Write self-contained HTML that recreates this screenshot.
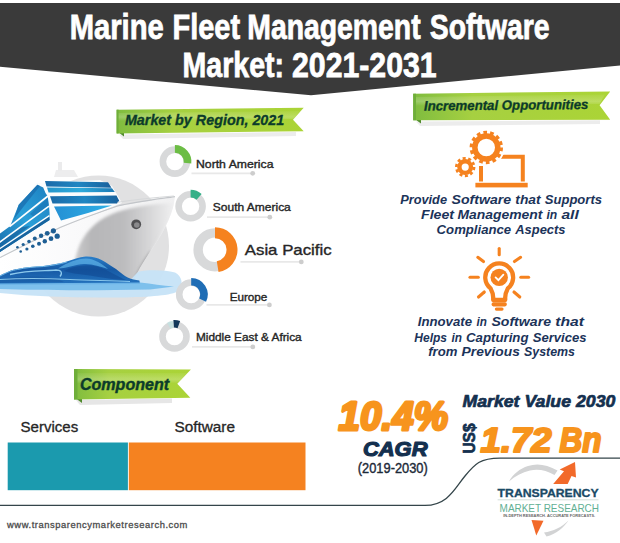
<!DOCTYPE html>
<html><head><meta charset="utf-8"><title>Marine Fleet Management Software Market</title>
<style>
html,body{margin:0;padding:0;background:#fff;}
body{width:620px;height:543px;overflow:hidden;position:relative;font-family:"Liberation Sans",sans-serif;}
svg{position:absolute;left:0;top:0;display:block;}
text{font-family:"Liberation Sans",sans-serif;}
.bi{font-weight:bold;font-style:italic;}
.b{font-weight:bold;}
</style></head><body>
<svg width="620" height="543" viewBox="0 0 620 543">
<defs>
<linearGradient id="rib" x1="0" y1="0" x2="1" y2="0"><stop offset="0" stop-color="#7fbc3f"/><stop offset="0.3" stop-color="#a6d041"/><stop offset="1" stop-color="#abd436"/></linearGradient>
<linearGradient id="shine" x1="0" y1="0" x2="0" y2="1"><stop offset="0" stop-color="#fff" stop-opacity="0.05"/><stop offset="0.6" stop-color="#fff" stop-opacity="0.22"/><stop offset="1" stop-color="#fff" stop-opacity="0.0"/></linearGradient>
<linearGradient id="hull" x1="0" y1="0" x2="1" y2="0"><stop offset="0" stop-color="#ffffff"/><stop offset="0.5" stop-color="#f9f9fa"/><stop offset="0.8" stop-color="#f3f3f4"/><stop offset="1" stop-color="#f0f0f1"/></linearGradient>
<linearGradient id="wave" x1="0" y1="0" x2="0" y2="1"><stop offset="0" stop-color="#2b80ca"/><stop offset="0.45" stop-color="#1659a4"/><stop offset="1" stop-color="#2474bf"/></linearGradient>
<linearGradient id="glass1" x1="0" y1="0" x2="1" y2="0"><stop offset="0" stop-color="#1a6aa8"/><stop offset="0.5" stop-color="#1f86c2"/><stop offset="1" stop-color="#18609c"/></linearGradient>
<linearGradient id="glass2" x1="0" y1="0" x2="1" y2="0"><stop offset="0" stop-color="#2596cc"/><stop offset="0.5" stop-color="#2eaada"/><stop offset="1" stop-color="#1c78b4"/></linearGradient>
<linearGradient id="glass3" x1="0" y1="0" x2="1" y2="0"><stop offset="0" stop-color="#2490d4"/><stop offset="1" stop-color="#2fb0e6"/></linearGradient>
<linearGradient id="glass4" x1="0" y1="1" x2="1" y2="0"><stop offset="0" stop-color="#1a70ae"/><stop offset="0.5" stop-color="#2a9fd8"/><stop offset="1" stop-color="#1d7fc0"/></linearGradient>
<linearGradient id="hullshade" x1="0" y1="0" x2="1" y2="0"><stop offset="0" stop-color="#cfcfd0"/><stop offset="0.2" stop-color="#b6b6b8"/><stop offset="0.5" stop-color="#bcbcbe"/><stop offset="0.78" stop-color="#dadadb"/><stop offset="1" stop-color="#f2f2f3"/></linearGradient>
<filter id="blur2" x="-10%" y="-10%" width="120%" height="120%"><feGaussianBlur stdDeviation="1.6"/></filter>
<filter id="blur1" x="-20%" y="-20%" width="140%" height="140%"><feGaussianBlur stdDeviation="0.8"/></filter>
</defs>

<!-- HEADER -->
<g id="header">
<polygon points="0,3 620,3 620,65.4 311,95.2 0,66.7" fill="#3a3a3a"/>
<text x="69.7" y="38.9" font-size="35.7" class="b" fill="#fff" stroke="#fff" stroke-width="0.8" textLength="94.1" lengthAdjust="spacingAndGlyphs">Marine</text>
<text x="172.6" y="38.9" font-size="35.7" class="b" fill="#fff" stroke="#fff" stroke-width="0.8" textLength="67.4" lengthAdjust="spacingAndGlyphs">Fleet</text>
<text x="247.3" y="38.9" font-size="35.7" class="b" fill="#fff" stroke="#fff" stroke-width="0.8" textLength="173.3" lengthAdjust="spacingAndGlyphs">Management</text>
<text x="429.7" y="38.9" font-size="35.7" class="b" fill="#fff" stroke="#fff" stroke-width="0.8" textLength="119.9" lengthAdjust="spacingAndGlyphs">Software</text>
<text x="182.6" y="76.9" font-size="35.7" class="b" fill="#fff" stroke="#fff" stroke-width="0.8" textLength="101.5" lengthAdjust="spacingAndGlyphs">Market:</text>
<text x="292" y="76.9" font-size="35.7" class="b" fill="#fff" stroke="#fff" stroke-width="0.8" textLength="144.6" lengthAdjust="spacingAndGlyphs">2021-2031</text>
</g>

<!-- RIBBONS -->
<g id="ribbons">
<polygon points="119,134.5 296,132 296,136 123,139" fill="#ececec"/>
<polygon points="116.6,131 124,131 124,136.5" fill="#4f8a2c"/>
<polygon points="116.6,109.7 303.7,107.8 293,119.7 303.7,131.3 116.6,133.4" fill="url(#rib)"/>
<polygon points="116.6,113 300,111 293.5,119 116.6,121" fill="url(#shine)"/>
<polygon points="116.6,109.7 118.6,109.7 118.6,133.4 116.6,133.4" fill="#6fae3a"/>
<text x="124.9" y="124.8" font-size="14.6" class="bi" fill="#0c3b2b" stroke="#0c3b2b" stroke-width="0.3" textLength="159.4" lengthAdjust="spacingAndGlyphs">Market by Region, 2021</text>

<polygon points="416,121.5 600,120.3 600,124 420,126" fill="#ececec"/>
<polygon points="413.2,118 421,118 421,123.5" fill="#4f8a2c"/>
<polygon points="413.2,93.7 610.2,91.4 599.6,105.3 610.2,119.7 413.2,120.3" fill="url(#rib)"/>
<polygon points="413.2,97 605,94.5 599.5,104 413.2,106" fill="url(#shine)"/>
<polygon points="413.2,93.7 416,93.7 416,120.3 413.2,120.3" fill="#6fae3a"/>
<text transform="translate(424,110.6) rotate(-0.56)" font-size="13.6" class="bi" fill="#0c3b2b" stroke="#0c3b2b" stroke-width="0.3" textLength="164.4" lengthAdjust="spacingAndGlyphs">Incremental Opportunities</text>

<polygon points="76,400 172,398.5 172,403 80,405" fill="#e6e6e6"/>
<polygon points="74,397 82,397 82,403" fill="#4f8a2c"/>
<polygon points="74,369 190.9,369.6 177.3,383.7 190.3,397.8 74,399.5" fill="url(#rib)"/>
<polygon points="74,373 187,373 178,383 74,383.5" fill="url(#shine)"/>
<polygon points="74,369 77.5,369 77.5,399.5 74,399.5" fill="#6fae3a"/>
<text x="79.9" y="389.9" font-size="17.2" class="bi" fill="#0c3b2b" stroke="#0c3b2b" stroke-width="0.4" textLength="89.3" lengthAdjust="spacingAndGlyphs">Component</text>
</g>

<!-- SHIP -->
<g id="ship">
<circle cx="98.5" cy="246" r="70.5" fill="#e1e1e2"/>
<!-- mast -->
<polygon points="54,177 56,170 74,170 78,177" fill="#ededee"/>
<rect x="58" y="162" width="4" height="9" fill="#ebebec"/>
<!-- superstructure white backing -->
<polygon points="0,236 12,221 36,183 100,180 112,186 122,203 60,228 0,259" fill="#fbfcfd"/>
<!-- horizontal stripes -->
<polygon points="45,181 108,182.2 111.5,187.8 46.5,186.6" fill="url(#glass1)"/>
<polygon points="47,187.6 112,188.2 114.8,192 48.5,192.4" fill="url(#glass2)"/>
<polygon points="50,196.3 116.5,195.6 119.2,200.7 117,203.6 52.5,203.6" fill="url(#glass1)"/>
<polygon points="54,206.6 112,205.6 88,213 61,220.5" fill="url(#glass3)"/>
<!-- tilted panels -->
<polygon points="12.2,220.9 18.7,204.8 37.4,184.8 43.2,187.4 45.5,193 47.7,196.3 49,206 49.6,213 49.6,220 0,251.9 0,233.5 10.3,226" fill="url(#glass4)"/>
<polygon points="18.7,204.8 37.4,184.8 40,186 24,206 14,219" fill="#1a6fb0" opacity="0.8"/>
<polygon points="0,242 20,227.5 30,226 0,248" fill="#17649f" opacity="0.7"/>
<polygon points="30,214 47.7,198 48.6,205.5 34,217" fill="#1b78b8" opacity="0.7"/>
<polygon points="0,248.8 49,216 49.6,220 0,251.9" fill="#17649f"/>
<g stroke="#fff" fill="none">
<line x1="9.5" y1="226.7" x2="48" y2="196" stroke-width="1.7"/>
<line x1="-1" y1="242.7" x2="49" y2="206.1" stroke-width="1.5"/>
<line x1="-1" y1="249.2" x2="49.4" y2="215.6" stroke-width="1.3"/>
</g>
<polygon points="0,258.6 15.8,252.2 16.6,254.6 0,261.4" fill="#1a6dab"/>
<!-- hull -->
<path d="M174.9,197 C173.5,211 167,227 153,247.5 C145,259 138,270 133,282 L0,290 L0,258 C20,248 40,238 60,228 C80,219.5 100,212.5 117.5,206.5 C135,202.5 155,200 174.9,197 Z" fill="url(#hull)"/>
<clipPath id="hullclip"><path d="M174.9,197 C173.5,211 167,227 153,247.5 C145,259 138,270 133,282 L0,290 L0,258 C20,248 40,238 60,228 C80,219.5 100,212.5 117.5,206.5 C135,202.5 155,200 174.9,197 Z"/></clipPath>
<g clip-path="url(#hullclip)"><path d="M132,284 C138,270 145,259 154,247.5 C164,232 171,216 176,203 C156,203.5 135,206 117,212 C100,218 88,228 80,244 C76,254 73,266 71,286 Z" fill="url(#hullshade)" filter="url(#blur2)"/></g>
<path d="M0,257.5 C20,247.5 40,237.5 60,227.6 C80,219 100,212 117.5,206 C135,202 155,199.5 174.9,196.6" fill="none" stroke="#c2c5c9" stroke-width="1.1"/>
<path d="M117.5,202.3 C135,199.5 155,197.6 173.8,196" fill="none" stroke="#d6d8da" stroke-width="1"/>
<g clip-path="url(#hullclip)"><path d="M131,284 C136,271 143,260 151,249 C147,262 142,273 139,284 Z" fill="#a9a9ab" filter="url(#blur1)"/><path d="M134.5,282 C139,270 146,259 154.5,247.5" fill="none" stroke="#f4f4f4" stroke-width="1.2"/></g>
<circle cx="136.2" cy="224.3" r="4.9" fill="#505052"/><circle cx="136.8" cy="225" r="2.8" fill="#8a8a8c"/>
<!-- portholes -->
<g fill="#1f5f94">
<circle cx="17.4" cy="247.3" r="1.3"/><circle cx="23.2" cy="244.5" r="1.6"/><circle cx="29" cy="241.5" r="1.8"/><circle cx="34.8" cy="238.6" r="2"/><circle cx="41.1" cy="235.7" r="2.2"/><circle cx="47.2" cy="233.3" r="2.4"/><circle cx="53.4" cy="230.8" r="2.6"/>
<circle cx="20.7" cy="251.5" r="1.3"/><circle cx="26.9" cy="249" r="1.6"/><circle cx="32.8" cy="246.2" r="1.8"/><circle cx="39" cy="243.7" r="2"/><circle cx="44.8" cy="241.2" r="2.2"/><circle cx="51" cy="238.7" r="2.4"/><circle cx="57.2" cy="236.2" r="2.6"/>
</g>
<!-- water -->
<path d="M0,281 C40,279.5 100,279 131,279.5 C134,276 136,273.5 139,271.5 C150,269.5 165,270 175,272.5 C182,276 184,285 178.5,291 C172,295.5 150,297 120,297.5 C80,298 40,297 0,293 Z" fill="#c6e3f7" opacity="0.95"/>
<path d="M0,275.5 C8,271.5 12,269.8 17.4,269 C26,267 34,266.6 43.5,266 C52,265 60,263.6 66.8,261.6 C73,259.6 79,256.8 85.6,256.4 C92,256.2 97,257.5 101.6,260 C107,263 112,266.5 116,269 C121,273 124,275.5 127.7,277.6 C132,279.6 135,280.2 139.4,280.5 L140,284 L0,285 Z" fill="url(#wave)"/>
<path d="M58,268.5 C68,262.5 77,258.8 86,258.6 C95,259 102,264 108,269 C100,266.5 92,263.5 84,264 C76,264.5 68,268 58,268.5 Z" fill="#5fb3e8" opacity="0.7"/>
<path d="M64,271 C74,265.5 88,263.5 99,267 C107,270 115,275 126,280 C110,279.5 96,276 86,275 C78,274 70,273 64,271 Z" fill="#114a92" opacity="0.6"/>
<path d="M0,280 C14,276.5 30,276 44,277 C54,278 60,280 64,282 L0,283 Z" fill="#114a92" opacity="0.35"/>
<path d="M0,283.5 L140,282.5 C152,284 162,285.5 174,286.5 L150,289.5 C100,290.5 40,290.5 0,289 Z" fill="#74bbeb" opacity="0.9"/>
<path d="M0,279.5 C30,277.5 50,278.5 70,279.5 C90,280.5 110,280.5 130,281.5" fill="none" stroke="#9ad6f5" stroke-width="1.2" opacity="0.85"/>
<path d="M10,274.5 C28,270 44,271 56,270 C61,270 63,272.5 60,276.5" fill="none" stroke="#9ad6f5" stroke-width="1.3" opacity="0.9"/>
<path d="M0,276 C8,272 12,270.3 17.4,269.5 C26,267.5 34,267 43.5,266.5 C52,265.5 60,264 66.8,262" fill="none" stroke="#7cc4ef" stroke-width="1" opacity="0.9"/>
</g>

<!-- DONUTS -->
<g id="donuts" fill="none">
<circle cx="174.9" cy="161.6" r="12" stroke="#d8d9da" stroke-width="6.6"/>
<path d="M174.90,148.90 A12.7,12.7 0 0 1 187.51,163.15" stroke="#6cbd45" stroke-width="7.6"/>
<circle cx="190.6" cy="206.3" r="12" stroke="#d8d9da" stroke-width="6.6"/>
<path d="M190.60,193.60 A12.7,12.7 0 0 1 199.10,196.86" stroke="#35b088" stroke-width="7.6"/>
<circle cx="191.2" cy="294.5" r="12" stroke="#d8d9da" stroke-width="6.6"/>
<path d="M191.20,281.80 A12.7,12.7 0 0 1 202.61,300.07" stroke="#1f6db5" stroke-width="7.6"/>
<circle cx="174.5" cy="336.5" r="12" stroke="#d8d9da" stroke-width="6.6"/>
<path d="M173.61,323.83 A12.7,12.7 0 0 1 178.84,324.57" stroke="#12375a" stroke-width="7.6"/>
<path d="M168.77,325.73 A12.2,12.2 0 0 1 173.44,324.35" stroke="#bfe3e3" stroke-width="7" opacity="0.7"/>
<circle cx="215" cy="249.8" r="16.9" stroke="#d8d9da" stroke-width="9.4"/>
<path d="M215.00,232.80 A17,17 0 0 1 217.66,266.59" stroke="#f5821f" stroke-width="11"/>
</g>
<g id="labels" fill="#262626" stroke="#262626" stroke-width="0.35" font-size="10.4">
<text x="196" y="167.8" textLength="77.5" lengthAdjust="spacingAndGlyphs">North America</text>
<text x="212.8" y="210.7" textLength="78" lengthAdjust="spacingAndGlyphs">South America</text>
<text x="244.8" y="255.1" font-size="14.3" textLength="86.8" lengthAdjust="spacingAndGlyphs">Asia Pacific</text>
<text x="229.7" y="300.8" textLength="37.7" lengthAdjust="spacingAndGlyphs">Europe</text>
<text x="196" y="340.6" textLength="105.7" lengthAdjust="spacingAndGlyphs">Middle East &amp; Africa</text>
</g>
<g id="leaders" stroke="#e8e8e8" stroke-width="1.8" fill="#cdcdcd">
<line x1="191.5" y1="173.4" x2="251" y2="173.4"/><circle cx="252.7" cy="173.3" r="2.4" stroke="none"/>
<line x1="207" y1="217.2" x2="268" y2="217.2"/><circle cx="269.8" cy="217.2" r="2.4" stroke="none"/>
<line x1="240.5" y1="261.8" x2="299.5" y2="261.8"/><circle cx="301.3" cy="261.9" r="2.4" stroke="none"/>
<line x1="206.5" y1="304.9" x2="267.5" y2="304.9"/><circle cx="269.4" cy="304.9" r="2.4" stroke="none"/>
<line x1="192" y1="346.9" x2="251" y2="346.9"/><circle cx="252.8" cy="346.9" r="2.4" stroke="none"/>
</g>

<!-- ICONS -->
<g id="icon1" fill="none" stroke="#f5821f">
<path d="M497,156.8 L522.8,156.8 L522.8,181.6 M481,181.6 L481,166" stroke-width="4"/>
<rect x="475.4" y="182.8" width="52.3" height="4.6" fill="#f5821f" stroke="none"/>
<circle cx="486.3" cy="147.5" r="18.6" fill="#fff" stroke="none"/>
<circle cx="486.3" cy="147.5" r="11.45" stroke-width="5.5"/>
<circle cx="486.3" cy="147.5" r="15.1" stroke-width="3.2" stroke-dasharray="3.7 3.077"/>
<circle cx="465.2" cy="167.1" r="11.6" fill="#fff" stroke="none"/>
<circle cx="465.2" cy="167.1" r="5.8" stroke-width="4.4"/>
<circle cx="465.2" cy="167.1" r="8.85" stroke-width="2.7" stroke-dasharray="3 2.56"/>
</g>
<g id="icon2" fill="none" stroke="#f5821f" stroke-linecap="round">
<path d="M493.2,300 L493.2,297.5 C493.2,293.5 492,291 490.6,288.4 A13.95,13.95 0 1 1 507.8,288.4 C506.4,291 505.2,293.5 505.2,297.5 L505.2,300 Z" stroke-width="4.3" stroke-linejoin="round"/>
<circle cx="499.2" cy="277.4" r="8.7" fill="#f5821f" stroke="none"/>
<path d="M495.6,277.4 L498.4,280.2 L503.4,274.6" stroke="#fff" stroke-width="1.8"/>
<rect x="491.6" y="302.2" width="15.2" height="4.2" rx="1.8" fill="#f5821f" stroke="none"/>
<rect x="494.8" y="307.4" width="8.8" height="3.3" rx="1.6" fill="#f5821f" stroke="none"/>
<g stroke-width="3.1">
<line x1="499.2" y1="248.6" x2="499.2" y2="254.8"/>
<line x1="470" y1="277.2" x2="478.3" y2="277.2"/>
<line x1="520.8" y1="277.2" x2="528.6" y2="277.2"/>
<line x1="477.8" y1="257.3" x2="483.5" y2="261.5"/>
<line x1="520.6" y1="257.3" x2="514.4" y2="261.5"/>
<line x1="478.5" y1="297" x2="484.3" y2="292"/>
<line x1="519.8" y1="297" x2="514" y2="292"/>
</g>
</g>

<!-- RIGHT TEXT -->
<g id="rtext" class="bi" fill="#1b3359" font-size="13.6">
<text x="400.2" y="204.4" textLength="46.8" lengthAdjust="spacingAndGlyphs">Provide</text><text x="451.5" y="204.4" textLength="59.7" lengthAdjust="spacingAndGlyphs">Software</text><text x="515.3" y="204.4" textLength="25.3" lengthAdjust="spacingAndGlyphs">that</text><text x="544.8" y="204.4" textLength="57.2" lengthAdjust="spacingAndGlyphs">Supports</text>
<text x="421" y="219.1" textLength="33.0" lengthAdjust="spacingAndGlyphs">Fleet</text><text x="457.4" y="219.1" textLength="85.0" lengthAdjust="spacingAndGlyphs">Management</text><text x="546.5" y="219.1" textLength="10.8" lengthAdjust="spacingAndGlyphs">in</text><text x="561.4" y="219.1" textLength="17.4" lengthAdjust="spacingAndGlyphs">all</text>
<text x="436.6" y="234.1" textLength="74.6" lengthAdjust="spacingAndGlyphs">Compliance</text><text x="515.3" y="234.1" textLength="50.2" lengthAdjust="spacingAndGlyphs">Aspects</text>
<text x="417.8" y="326.4" textLength="54.2" lengthAdjust="spacingAndGlyphs">Innovate</text><text x="476.5" y="326.4" textLength="10.4" lengthAdjust="spacingAndGlyphs">in</text><text x="491.4" y="326.4" textLength="59.6" lengthAdjust="spacingAndGlyphs">Software</text><text x="555.2" y="326.4" textLength="28.8" lengthAdjust="spacingAndGlyphs">that</text>
<text x="414.3" y="341.5" textLength="32.7" lengthAdjust="spacingAndGlyphs">Helps</text><text x="451.5" y="341.5" textLength="10.5" lengthAdjust="spacingAndGlyphs">in</text><text x="466" y="341.5" textLength="62.5" lengthAdjust="spacingAndGlyphs">Capturing</text><text x="532.7" y="341.5" textLength="53.8" lengthAdjust="spacingAndGlyphs">Services</text>
<text x="428.2" y="355.7" textLength="29.2" lengthAdjust="spacingAndGlyphs">from</text><text x="461.6" y="355.7" textLength="58.2" lengthAdjust="spacingAndGlyphs">Previous</text><text x="524" y="355.7" textLength="51.0" lengthAdjust="spacingAndGlyphs">Systems</text>
</g>

<!-- COMPONENT BARS -->
<g id="bars">
<text x="20.6" y="431.7" font-size="14" fill="#262626" stroke="#262626" stroke-width="0.3" textLength="57.6" lengthAdjust="spacingAndGlyphs">Services</text>
<text x="174.5" y="431.7" font-size="14" fill="#262626" stroke="#262626" stroke-width="0.3" textLength="60.5" lengthAdjust="spacingAndGlyphs">Software</text>
<rect x="7.7" y="442.5" width="120.2" height="47.7" fill="#1b9aae"/>
<rect x="128.8" y="442.5" width="176.7" height="47.7" fill="#f58220"/>
</g>

<!-- STATS -->
<g id="stats" stroke-linejoin="round">
<text x="338.6" y="430.2" font-size="41.4" class="bi" fill="#f7941d" stroke="#f7941d" stroke-width="3" textLength="109.6" lengthAdjust="spacingAndGlyphs">10.4%</text>
<text x="362.9" y="455.6" font-size="20.6" class="bi" fill="#14304f" stroke="#14304f" stroke-width="1.2" textLength="64.6" lengthAdjust="spacingAndGlyphs">CAGR</text>
<text x="357.8" y="472.8" font-size="14.6" fill="#1d2a38" stroke="#1d2a38" stroke-width="0.4" textLength="70" lengthAdjust="spacingAndGlyphs">(2019-2030)</text>
<text x="462.4" y="407" font-size="17.2" class="bi" fill="#14304f" stroke="#14304f" stroke-width="0.7" textLength="153" lengthAdjust="spacingAndGlyphs">Market Value 2030</text>
<text transform="translate(474.5,453.6) rotate(-90)" font-size="16.8" class="b" fill="#14304f" stroke="#14304f" stroke-width="0.7" textLength="30.2" lengthAdjust="spacingAndGlyphs">US$</text>
<text x="480.6" y="451.6" font-size="35.4" class="bi" fill="#f7941d" stroke="#f7941d" stroke-width="2.2" textLength="71" lengthAdjust="spacingAndGlyphs">1.72</text>
<text x="559.4" y="451.6" font-size="35.4" class="bi" fill="#f7941d" stroke="#f7941d" stroke-width="2.2" textLength="42" lengthAdjust="spacingAndGlyphs">Bn</text>
</g>

<!-- FOOTER LINE + LOGO -->
<g id="footer">
<path d="M0,505.4 L425,505.4 C448,505.4 455,488 465,476 C475,464 480,458.1 500,458.1 L620,458.1" fill="none" stroke="#34454a" stroke-width="1.3"/>
<text x="7" y="527.7" font-size="9.4" fill="#4c4c4c" stroke="#4c4c4c" stroke-width="0.3" textLength="180.4" lengthAdjust="spacing">www.transparencymarketresearch.com</text>
<g id="logo">
<path d="M509,481.5 C513,474 520,468.5 528,466 C537,463 547,464.5 557.5,470.5 L554.5,475 C546,470 538,468.6 530,470.4 C522,472.4 515,476 509,481.5 Z" fill="#d2d3d4"/>
<path d="M544,532.5 C553,531.5 562,527 568.5,520.5 C564,527.5 556,534 546.5,536.5 Z" fill="#d2d3d4"/>
<polygon points="575,462 559.7,469.5 564,471.3 553.2,484 567.7,484 571.5,476 576,477.5" fill="#f26a2a"/>
<polygon points="531.5,520 543.5,520.8 536.3,535.5" fill="#f26a2a"/>
<text x="497.6" y="496.8" font-size="11.5" class="b" fill="#1a4a66" stroke="#1a4a66" stroke-width="0.3" textLength="101" lengthAdjust="spacingAndGlyphs">TRANSPARENCY</text>
<line x1="497.6" y1="499.8" x2="598.5" y2="499.8" stroke="#c8d8d0" stroke-width="0.8"/>
<text x="499.6" y="511.8" font-size="11" fill="#62b094" textLength="99.4" lengthAdjust="spacingAndGlyphs">MARKET RESEARCH</text>
<text x="503.2" y="517" font-size="3.3" class="b" fill="#666" textLength="92" lengthAdjust="spacingAndGlyphs">IN-DEPTH RESEARCH. ACCURATE FORECASTS.</text>
</g>

</g>
</svg>
</body></html>
